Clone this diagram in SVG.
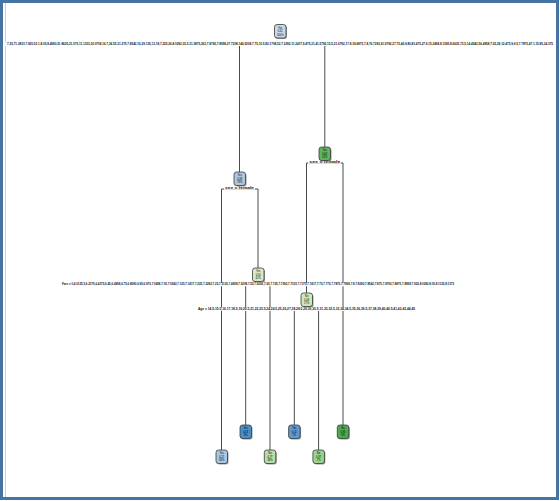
<svg xmlns="http://www.w3.org/2000/svg" width="560" height="501" viewBox="0 0 560 501">
<style>
.nb{stroke:#3a3a3a;stroke-width:0.8}
.sh{fill:#9a9a9a}
.nt{font-family:"Liberation Sans",Arial,sans-serif;font-size:2.6px;text-anchor:middle;fill:#000}
.sl{font-family:"Liberation Sans",Arial,sans-serif;font-size:2.8px;font-weight:bold;text-anchor:middle;fill:#111}
.bg{fill:#fff}
.e{stroke:#4a4a4a;stroke-width:1;fill:none}
</style>
<rect x="0" y="0" width="560" height="501" fill="#fff"/>
<rect x="1.5" y="1.5" width="556" height="497" fill="none" stroke="#4673a3" stroke-width="3"/>
<line x1="5.5" y1="3" x2="5.5" y2="497" stroke="#d0d0d0" stroke-width="1"/>
<g id="connectors">
<path class="e" d="M239.5,46 V172"/>
<path class="e" d="M324.8,46 V147"/>
<path class="e" d="M221.5,189 H258 M221.5,189 V450 M258,189 V268"/>
<path class="e" d="M306.5,163 H343 M306.5,163 V293 M343,163 V425"/>
<path class="e" d="M245.7,286 V425 M270,286 V450"/>
<path class="e" d="M294.3,311 V425 M318.6,311 V450"/>
</g>
<g id="labels">
<rect class="bg" x="5" y="42.5" width="550" height="3.5"/>
<text class="sl" x="280" y="45.2" textLength="546" lengthAdjust="spacingAndGlyphs">7.25,71.2833,7.925,53.1,8.05,8.4583,51.8625,21.075,11.1333,30.0708,16.7,26.55,31.275,7.8542,16,29.125,13,18,7.225,26,8.0292,35.5,31.3875,263,7.8792,7.8958,27.7208,146.5208,7.75,10.5,82.1708,52,7.2292,11.2417,9.475,21,41.5792,15.5,21.6792,17.8,39.6875,7.8,76.7292,61.9792,27.75,46.9,80,83.475,27.9,15.2458,8.1583,8.6625,73.5,14.4542,56.4958,7.65,29,12.475,9,9.5,7.7875,47.1,15.85,34.375</text>
<rect class="bg" x="224" y="186.6" width="31" height="3"/>
<text class="sl" x="239.5" y="189" textLength="29" lengthAdjust="spacingAndGlyphs">sex = female</text>
<rect class="bg" x="308" y="160.6" width="33" height="3"/>
<text class="sl" x="324.8" y="163" textLength="31" lengthAdjust="spacingAndGlyphs">sex = female</text>
<rect class="bg" x="61" y="282.8" width="394" height="3.5"/>
<text class="sl" x="258" y="285.4" textLength="392" lengthAdjust="spacingAndGlyphs">Fare = 0,4.0125,5,6.2375,6.4375,6.45,6.4958,6.75,6.8583,6.95,6.975,7.0458,7.05,7.0542,7.125,7.1417,7.225,7.2292,7.25,7.3125,7.4958,7.5208,7.55,7.6292,7.65,7.725,7.7292,7.7333,7.7375,7.7417,7.75,7.775,7.7875,7.7958,7.8,7.8292,7.8542,7.875,7.8792,7.8875,7.8958,7.925,8.0292,8.05,8.1125,8.1375</text>
<rect class="bg" x="197" y="307.4" width="219" height="3.5"/>
<text class="sl" x="306.5" y="310" textLength="217" lengthAdjust="spacingAndGlyphs">Age = 14.5,15.5,16,17,18.5,19,20.5,21,22,23.5,24,24.5,25,26,27,28,28.5,29,30,30.5,31,32,32.5,33,34,34.5,35,36,36.5,37,38,39,40,40.5,41,42,43,44,45</text>
</g>
<g id="n1">
<rect class="sh" x="275.5" y="25.5" width="11.5" height="13.5" rx="2.5"/>
<rect class="nb" x="274.5" y="24.5" width="11.5" height="13.5" rx="2.5" fill="#c9d7e6"/>
<text class="nt" x="280.2" y="28.6">Yes</text><text class="nt" x="280.2" y="32">0.41</text><text class="nt" x="280.2" y="35.8">100%</text>
</g>
<g id="n2">
<rect class="sh" x="235" y="173" width="11.5" height="13.5" rx="2.5"/>
<rect class="nb" x="234" y="172" width="11.5" height="13.5" rx="2.5" fill="#b3c5dc"/>
<text class="nt" x="239.7" y="176.1">Yes</text><text class="nt" x="239.7" y="179.5">0.38</text><text class="nt" x="239.7" y="183.3">78%</text>
</g>
<g id="n3">
<rect class="sh" x="320" y="148" width="11.5" height="13.5" rx="2.5"/>
<rect class="nb" x="319" y="147" width="11.5" height="13.5" rx="2.5" fill="#5fb460"/>
<text class="nt" x="324.7" y="151.1">Yes</text><text class="nt" x="324.7" y="154.5">0.63</text><text class="nt" x="324.7" y="158.3">22%</text>
</g>
<g id="n4">
<rect class="sh" x="253.5" y="269" width="11.5" height="13.5" rx="2.5"/>
<rect class="nb" x="252.5" y="268" width="11.5" height="13.5" rx="2.5" fill="#d9e8c6"/>
<text class="nt" x="258.2" y="272.1">Yes</text><text class="nt" x="258.2" y="275.5">0.50</text><text class="nt" x="258.2" y="279.3">42%</text>
</g>
<g id="n5">
<rect class="sh" x="302" y="294" width="11.5" height="13.5" rx="2.5"/>
<rect class="nb" x="301" y="293" width="11.5" height="13.5" rx="2.5" fill="#cce8b8"/>
<text class="nt" x="306.7" y="297.1">No</text><text class="nt" x="306.7" y="300.5">0.49</text><text class="nt" x="306.7" y="304.3">17%</text>
</g>
<g id="l1">
<rect class="sh" x="217" y="451" width="11.5" height="13.5" rx="2.5"/>
<rect class="nb" x="216" y="450" width="11.5" height="13.5" rx="2.5" fill="#a9c6e3"/>
<text class="nt" x="221.7" y="454.1">Yes</text><text class="nt" x="221.7" y="457.5">0.21</text><text class="nt" x="221.7" y="461.3">36%</text>
</g>
<g id="l2">
<rect class="sh" x="241" y="426" width="11.5" height="13.5" rx="2.5"/>
<rect class="nb" x="240" y="425" width="11.5" height="13.5" rx="2.5" fill="#4a8fca"/>
<text class="nt" x="245.7" y="429.1">Yes</text><text class="nt" x="245.7" y="432.5">0.03</text><text class="nt" x="245.7" y="436.3">9%</text>
</g>
<g id="l3">
<rect class="sh" x="265.3" y="451" width="11.5" height="13.5" rx="2.5"/>
<rect class="nb" x="264.3" y="450" width="11.5" height="13.5" rx="2.5" fill="#b9dba8"/>
<text class="nt" x="270" y="454.1">No</text><text class="nt" x="270" y="457.5">0.77</text><text class="nt" x="270" y="461.3">33%</text>
</g>
<g id="l4">
<rect class="sh" x="289.6" y="426" width="11.5" height="13.5" rx="2.5"/>
<rect class="nb" x="288.6" y="425" width="11.5" height="13.5" rx="2.5" fill="#5b9bd2"/>
<text class="nt" x="294.3" y="429.1">Yes</text><text class="nt" x="294.3" y="432.5">0.10</text><text class="nt" x="294.3" y="436.3">7%</text>
</g>
<g id="l5">
<rect class="sh" x="313.9" y="451" width="11.5" height="13.5" rx="2.5"/>
<rect class="nb" x="312.9" y="450" width="11.5" height="13.5" rx="2.5" fill="#9ad48e"/>
<text class="nt" x="318.6" y="454.1">No</text><text class="nt" x="318.6" y="457.5">0.87</text><text class="nt" x="318.6" y="461.3">7%</text>
</g>
<g id="l6">
<rect class="sh" x="338.3" y="426" width="11.5" height="13.5" rx="2.5"/>
<rect class="nb" x="337.3" y="425" width="11.5" height="13.5" rx="2.5" fill="#4caa50"/>
<text class="nt" x="343" y="429.1">No</text><text class="nt" x="343" y="432.5">0.95</text><text class="nt" x="343" y="436.3">5%</text>
</g>
</svg>
